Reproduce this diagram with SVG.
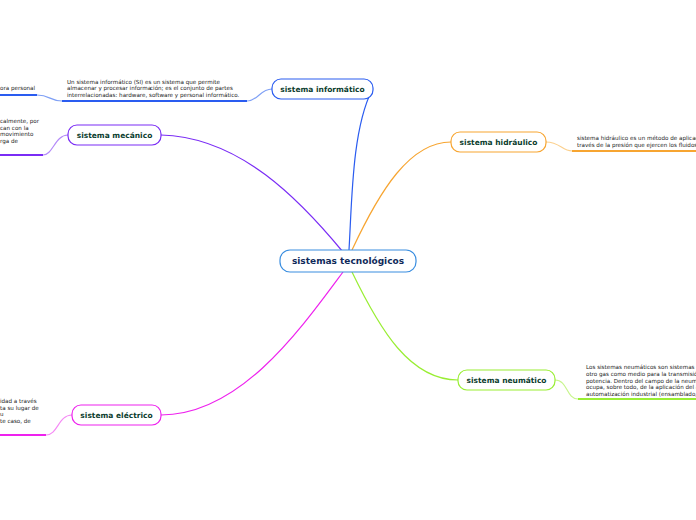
<svg xmlns="http://www.w3.org/2000/svg" width="696" height="520" viewBox="0 0 696 520">
<style>
.n{fill:#fff;stroke-width:1.2}
.t{font-family:"DejaVu Sans",sans-serif;font-weight:bold;font-size:7.5px;fill:#0b3d2e;text-anchor:middle}
.s{font-family:"DejaVu Sans",sans-serif;font-size:5.6px;fill:#222}
.c{fill:none;stroke-width:1.2}
.u{fill:none;stroke-width:1.8}
</style>
<rect width="696" height="520" fill="#fff"/>
<g id="connectors">
<path class="c" stroke="#2a5cf0" d="M349,250 C352,200 352,130 372,90"/>
<path class="c" stroke="#7a2cf5" d="M343,252 C300,200 240,137 161,135"/>
<path class="c" stroke="#f7a531" d="M352,250 C380,190 410,142 451,142"/>
<path class="c" stroke="#99ee33" d="M352,272 C380,330 410,380 458,380"/>
<path class="c" stroke="#ee22ee" d="M343,272 C300,330 240,415 161,415"/>
<path class="c" stroke="#7fa0f5" d="M272,89 C260,89 258,101 247,101"/>
<path class="u" stroke="#2a5cf0" d="M62,101 H247"/>
<path class="c" stroke="#7fa0f5" d="M62,101 C50,101 50,95 37,95"/>
<path class="u" stroke="#2a5cf0" d="M0,95 H37"/>
<path class="c" stroke="#b48af8" d="M68,135 C55,135 53,155 43,155"/>
<path class="u" stroke="#7a2cf5" d="M0,155 H43"/>
<path class="c" stroke="#fbd08e" d="M546,142 C560,142 562,151 572,151"/>
<path class="u" stroke="#f7a531" d="M572,151 H696"/>
<path class="c" stroke="#c8f58e" d="M555,380 C568,380 566,399 578,399"/>
<path class="u" stroke="#99ee33" d="M578,399 H696"/>
<path class="c" stroke="#f58af5" d="M72,415 C58,415 58,435 46,435"/>
<path class="u" stroke="#ee22ee" d="M0,435 H46"/>
</g>
<g id="center"><rect class="n" x="280" y="250" width="136" height="22" rx="10" stroke="#3a8ee0"/><text class="t" x="348" y="264" style="font-size:9px;fill:#102a5a">sistemas tecnológicos</text></g>
<g id="informatico"><rect class="n" x="272" y="79" width="101" height="20" rx="9" stroke="#2a5cf0"/><text class="t" x="322.5" y="92">sistema informático</text>
<text class="s" x="67" y="84">Un sistema informático (SI) es un sistema que permite</text>
<text class="s" x="67" y="90">almacenar y procesar informa<tspan x="150">ción; es el conjunto de partes</tspan></text>
<text class="s" x="67" y="97">interrelacionadas: hardware, software y personal informático.</text>
<text class="s" x="0" y="90">ora personal</text></g>
<g id="mecanico"><rect class="n" x="68" y="125" width="93" height="20" rx="9" stroke="#7a2cf5"/><text class="t" x="114.5" y="138">sistema mecánico</text>
<text class="s" x="0" y="123">calmente, por</text><text class="s" x="0" y="130">can con la</text><text class="s" x="0" y="136">movimiento</text><text class="s" x="0" y="143">rga de</text></g>
<g id="hidraulico"><rect class="n" x="451" y="132" width="95" height="20" rx="9" stroke="#f7a531"/><text class="t" x="498.5" y="145">sistema hidráulico</text>
<text class="s" x="577" y="140">sistema hidráulico es un método de aplicac</text><text class="s" x="577" y="147">través de la presión que ejercen los fluidos</text></g>
<g id="neumatico"><rect class="n" x="458" y="370" width="97" height="20" rx="9" stroke="#99ee33"/><text class="t" x="506.5" y="383">sistema neumático</text>
<text class="s" x="586" y="369">Los sistemas neumáticos son sistemas c</text><text class="s" x="586" y="376">otro gas como medio para la transmisió</text><text class="s" x="586" y="383">potencia. Dentro del campo de la neuma</text><text class="s" x="586" y="389">ocupa, sobre todo, de la aplicación del a</text><text class="s" x="586" y="396">automatización industrial (ensamblado,</text></g>
<g id="electrico"><rect class="n" x="72" y="405" width="89" height="20" rx="9" stroke="#ee22ee"/><text class="t" x="116.5" y="418">sistema eléctrico</text>
<text class="s" x="0" y="403">idad a través</text><text class="s" x="0" y="410">ta su lugar de</text><text class="s" x="0" y="416">u</text><text class="s" x="0" y="423">te caso, de</text></g>
</svg>
